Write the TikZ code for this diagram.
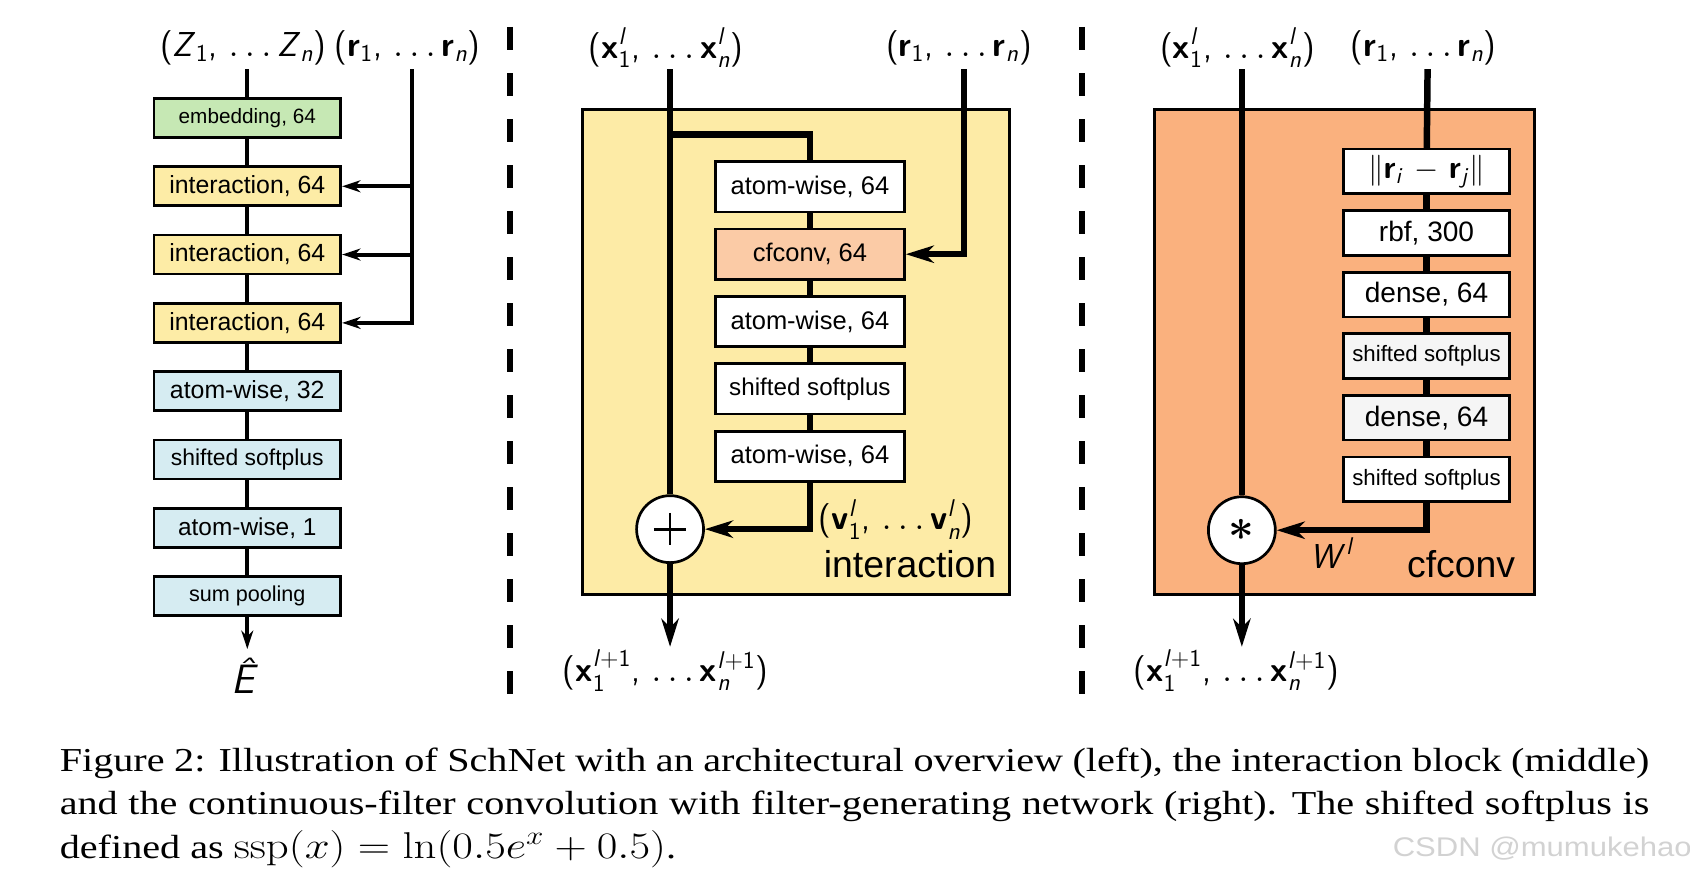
\documentclass[tikz,border=0pt]{standalone}
\usepackage[no-math]{fontspec}
\usepackage{amsmath}
\setmainfont{Liberation Serif}
\newfontfamily\helv{Liberation Sans}
\usetikzlibrary{arrows.meta,calc}
\definecolor{embgreen}{HTML}{C6E8B4}
\definecolor{intyellow}{HTML}{FDECA6}
\definecolor{awblue}{HTML}{D6ECF2}
\definecolor{cfpeach}{HTML}{FBCBA6}
\definecolor{bigyellow}{HTML}{FDEBA6}
\definecolor{bigorange}{HTML}{FAB17E}
\definecolor{softgray}{HTML}{F5F5F5}
\definecolor{wmgray}{HTML}{D2D2D2}
\newcommand{\mdots}{\ensuremath{\ldots}\,}
\newcommand{\Zlab}{(\textit{Z}\ensuremath{_{\text{1}}}, \mdots\textit{Z}\ensuremath{_{\text{\textit{n}}}})}
\newcommand{\rlab}{(\textbf{r}\ensuremath{_{\text{1}}}, \mdots\textbf{r}\ensuremath{_{\text{\textit{n}}}})}
\newcommand{\vecl}[3]{(\textbf{#1}\ensuremath{^{\text{#2}}_{\text{#3}}}, \mdots\textbf{#1}\ensuremath{^{\text{#2}}_{\text{\textit{n}}}})}
\tikzset{
  bx/.style={draw, line width=1.25pt, inner sep=0pt, font=\helv\fontsize{11.5}{12}\selectfont},
  lbox/.style={bx, minimum width=86.5pt, minimum height=18pt},
  mbox/.style={bx, fill=white, minimum width=87.5pt, minimum height=23.3pt, font=\helv\fontsize{11.8}{12}\selectfont},
  rbox/.style={bx, fill=white, minimum width=76.8pt, minimum height=20.7pt, font=\helv\fontsize{13}{14}\selectfont},
  mlab/.style={inner sep=0pt, font=\sffamily\fontsize{16}{17}\selectfont},
  circ/.style={circle, draw, fill=white, line width=1.25pt, minimum size=31pt, inner sep=0pt},
  lline/.style={line width=1.85pt},
  hline/.style={line width=3pt},
  larr/.style={-{Stealth[length=8.5pt,width=5.5pt,inset=2.6pt]}},
  harr/.style={-{Stealth[length=13pt,width=8pt,inset=4pt]}},
  sep/.style={line width=2.8pt, dash pattern=on 10.65pt off 10.65pt},
  bigbox/.style={line width=1.3pt},
  capt/.style={inner sep=0pt, anchor=base west, font=\fontsize{15.5}{18}\selectfont}
}
\begin{document}
\begin{tikzpicture}[x=0.5pt,y=-0.5pt]
\useasboundingbox (0,0) rectangle (1565,819.6);
% ---------------- left panel
\node[mlab] (ztit) at (225.3,44) {\Zlab};
\node[mlab] (rtit) at (377.5,44) {\rlab};
\node[lbox, fill=embgreen, font=\helv\fontsize{9.6}{10}\selectfont] (emb) at (229,109.2) {embedding, 64};
\node[lbox, fill=intyellow] (int1) at (229,172.5) {interaction, 64};
\node[lbox, fill=intyellow] (int2) at (229,235.7) {interaction, 64};
\node[lbox, fill=intyellow] (int3) at (229,299) {interaction, 64};
\node[lbox, fill=awblue] (aw32) at (229,362.3) {atom-wise, 32};
\node[lbox, fill=awblue, font=\helv\fontsize{10.6}{11}\selectfont] (lssp) at (229,425.5) {shifted softplus};
\node[lbox, fill=awblue, font=\helv\fontsize{11.3}{12}\selectfont] (aw1) at (229,488.8) {atom-wise, 1};
\node[lbox, fill=awblue, font=\helv\fontsize{10}{11}\selectfont] (sump) at (229,552.1) {sum pooling};
\coordinate (zin) at (229,64);
\coordinate (rin) at (381.2,64);
\coordinate (eout) at (229,601);
\node[inner sep=0pt, font=\sffamily\fontsize{19}{20}\selectfont] (ehat) at (227,626) {\textit{\^E}};
\draw[lline] (zin) -- (emb);
\draw[lline] (emb) -- (int1);
\draw[lline] (int1) -- (int2);
\draw[lline] (int2) -- (int3);
\draw[lline] (int3) -- (aw32);
\draw[lline] (aw32) -- (lssp);
\draw[lline] (lssp) -- (aw1);
\draw[lline] (aw1) -- (sump);
\draw[lline, larr] (sump) -- (eout);
\draw[lline, larr] (rin) |- (int3.east);
\draw[lline, larr] (rin |- int1.east) -- (int1.east);
\draw[lline, larr] (rin |- int2.east) -- (int2.east);
% separators
\draw[sep] (472,25) -- (472,648);
\draw[sep] (1002,25) -- (1002,648);
% ---------------- middle panel
\draw[bigbox, fill=bigyellow] (539.5,101.6) rectangle (935,550.5);
\node[mlab] (xtit2) at (616.7,44) {\vecl{x}{\textit{l}}{1}};
\node[mlab] (rtit2) at (888,44) {\rlab};
\node[mbox] (m1) at (750,173) {atom-wise, 64};
\node[mbox, fill=cfpeach] (mcf) at (750,235.4) {cfconv, 64};
\node[mbox] (m3) at (750,297.8) {atom-wise, 64};
\node[mbox, font=\helv\fontsize{11.2}{12}\selectfont] (m4) at (750,360.2) {shifted softplus};
\node[mbox] (m5) at (750,422.6) {atom-wise, 64};
\node[circ] (plus) at (620.5,490) {};
\draw[line width=1.3pt] ($(plus)+(-15,0)$) -- ($(plus)+(15,0)$);
\draw[line width=1.3pt] ($(plus)+(0,-15)$) -- ($(plus)+(0,15)$);
\coordinate (xin2) at (620.5,64);
\coordinate (br2) at (620.5,124.4);
\coordinate (rin2) at (892.7,64);
\coordinate (xout2) at (620.5,599);
\draw[hline] (xin2) -- (plus);
\draw[hline] (br2) -| (m1.north);
\draw[hline] (m1) -- (mcf);
\draw[hline] (mcf) -- (m3);
\draw[hline] (m3) -- (m4);
\draw[hline] (m4) -- (m5);
\draw[hline, harr] (m5.south) |- (plus.east);
\draw[hline, harr] (rin2) |- (mcf.east);
\draw[hline, harr] (plus) -- (xout2);
\node[mlab] (vlab) at (830,481) {\vecl{v}{\textit{l}}{1}};
\node[inner sep=0pt, anchor=base east, font=\helv\fontsize{17.3}{18}\selectfont] (ilab) at (923,534.5) {interaction};
\node[mlab] (xout2lab) at (616.5,621) {\vecl{x}{\textit{l}+1}{1}};
% ---------------- right panel
\draw[bigbox, fill=bigorange] (1069,101.6) rectangle (1421,550.5);
\node[mlab] (xtit3) at (1146,44) {\vecl{x}{\textit{l}}{1}};
\node[mlab] (rtit3) at (1318.4,44) {\rlab};
\node[rbox, font=\sffamily\fontsize{15}{16}\selectfont] (c1) at (1321,158.8) {$\|$\textbf{r}\ensuremath{_{\text{\textit{i}}}} $-$ \textbf{r}\ensuremath{_{\text{\textit{j}}}}$\|$};
\node[rbox] (c2) at (1321,215.8) {rbf, 300};
\node[rbox] (c3) at (1321,272.8) {dense, 64};
\node[rbox, fill=softgray, font=\helv\fontsize{10.3}{11}\selectfont] (c4) at (1321,329.8) {shifted softplus};
\node[rbox, fill=softgray] (c5) at (1321,386.8) {dense, 64};
\node[rbox, font=\helv\fontsize{10.3}{11}\selectfont] (c6) at (1321,443.8) {shifted softplus};
\node[circ, font=\fontsize{20}{20}\selectfont] (star) at (1150,491) {$\boldsymbol{\ast}$};
\coordinate (xin3) at (1150,64);
\coordinate (rin3) at (1322,64);
\coordinate (xout3) at (1150,599);
\draw[hline] (xin3) -- (star);
\draw[hline] (rin3) -- (c1);
\draw[hline] (c1) -- (c2);
\draw[hline] (c2) -- (c3);
\draw[hline] (c3) -- (c4);
\draw[hline] (c4) -- (c5);
\draw[hline] (c5) -- (c6);
\draw[hline, harr] (c6.south) |- (star.east);
\draw[hline, harr] (star) -- (xout3);
\node[inner sep=0pt, font=\sffamily\fontsize{16}{17}\selectfont] (wl) at (1234,512) {\textit{W}\ensuremath{^{\text{\textit{l}}}}};
\node[inner sep=0pt, anchor=base east, font=\helv\fontsize{17.3}{18}\selectfont] (clab) at (1403.4,534.5) {cfconv};
\node[mlab] (xout3lab) at (1145,621) {\vecl{x}{\textit{l}+1}{1}};
% ---------------- caption
\node[capt] (cap1) at (55,714.5) {\scalebox{1.2}[1]{\makebox[613.3pt][s]{Figure 2: Illustration of SchNet with an architectural overview (left), the interaction block (middle)}}};
\node[capt] (cap2) at (55,754.6) {\scalebox{1.2}[1]{\makebox[613.3pt][s]{and the continuous-filter convolution with filter-generating network (right). The shifted softplus is}}};
\node[capt] (cap3) at (55,794.8) {\scalebox{1.2}[1]{defined as {\fontsize{16.9}{18}\selectfont$\mathrm{ssp}(x) = \ln(0.5e^x + 0.5)$}.}};
\node[inner sep=0pt, anchor=base east, text=wmgray, font=\helv\fontsize{12.5}{13}\selectfont] (wm) at (1567,793.5) {\scalebox{1.15}[1]{CSDN @mumukehao}};
\end{tikzpicture}
\end{document}
